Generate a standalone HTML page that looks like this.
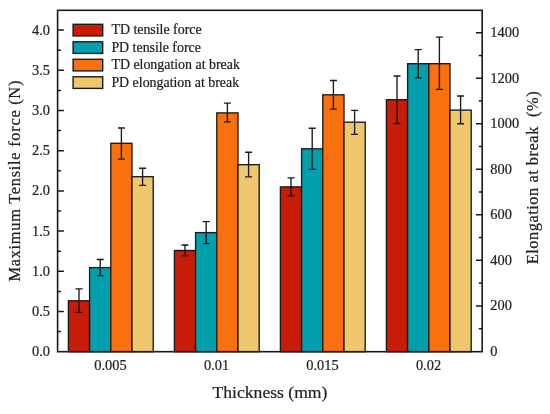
<!DOCTYPE html>
<html lang="en"><head><meta charset="utf-8"><title>Tensile force and elongation chart</title>
<style>html,body{margin:0;padding:0;background:#fff}body{width:550px;height:414px;overflow:hidden}svg{display:block}</style></head>
<body>
<svg width="550" height="414" viewBox="0 0 550 414">
<rect width="550" height="414" fill="#fff"/>
<g stroke="#1a1a1a" stroke-width="1.35">
<rect x="68.40" y="300.80" width="21.2" height="50.90" fill="#C81B08"/>
<rect x="89.60" y="267.60" width="21.2" height="84.10" fill="#02A0AC"/>
<rect x="110.80" y="143.30" width="21.2" height="208.40" fill="#F9700F"/>
<rect x="132.00" y="176.70" width="21.2" height="175.00" fill="#EFC86E"/>
<rect x="174.40" y="250.50" width="21.2" height="101.20" fill="#C81B08"/>
<rect x="195.60" y="232.60" width="21.2" height="119.10" fill="#02A0AC"/>
<rect x="216.80" y="112.90" width="21.2" height="238.80" fill="#F9700F"/>
<rect x="238.00" y="164.70" width="21.2" height="187.00" fill="#EFC86E"/>
<rect x="280.40" y="186.90" width="21.2" height="164.80" fill="#C81B08"/>
<rect x="301.60" y="148.80" width="21.2" height="202.90" fill="#02A0AC"/>
<rect x="322.80" y="94.80" width="21.2" height="256.90" fill="#F9700F"/>
<rect x="344.00" y="122.20" width="21.2" height="229.50" fill="#EFC86E"/>
<rect x="386.40" y="99.70" width="21.2" height="252.00" fill="#C81B08"/>
<rect x="407.60" y="63.70" width="21.2" height="288.00" fill="#02A0AC"/>
<rect x="428.80" y="63.70" width="21.2" height="288.00" fill="#F9700F"/>
<rect x="450.00" y="110.10" width="21.2" height="241.60" fill="#EFC86E"/>
</g>
<g stroke="#1a1a1a" stroke-width="1.35" fill="none">
<path d="M79.00 288.9 V312.29999999999995 M75.50 288.9 H82.50 M75.50 312.29999999999995 H82.50"/>
<path d="M100.20 259.5 V275.59999999999997 M96.70 259.5 H103.70 M96.70 275.59999999999997 H103.70"/>
<path d="M121.40 128.0 V159.1 M117.90 128.0 H124.90 M117.90 159.1 H124.90"/>
<path d="M142.60 168.20000000000002 V185.3 M139.10 168.20000000000002 H146.10 M139.10 185.3 H146.10"/>
<path d="M185.00 245.0 V255.8 M181.50 245.0 H188.50 M181.50 255.8 H188.50"/>
<path d="M206.20 221.6 V243.6 M202.70 221.6 H209.70 M202.70 243.6 H209.70"/>
<path d="M227.40 103.10000000000001 V121.9 M223.90 103.10000000000001 H230.90 M223.90 121.9 H230.90"/>
<path d="M248.60 152.20000000000002 V176.8 M245.10 152.20000000000002 H252.10 M245.10 176.8 H252.10"/>
<path d="M291.00 177.8 V195.9 M287.50 177.8 H294.50 M287.50 195.9 H294.50"/>
<path d="M312.20 128.2 V169.4 M308.70 128.2 H315.70 M308.70 169.4 H315.70"/>
<path d="M333.40 80.5 V109.10000000000001 M329.90 80.5 H336.90 M329.90 109.10000000000001 H336.90"/>
<path d="M354.60 110.4 V134.3 M351.10 110.4 H358.10 M351.10 134.3 H358.10"/>
<path d="M397.00 76.0 V123.5 M393.50 76.0 H400.50 M393.50 123.5 H400.50"/>
<path d="M418.20 49.6 V77.80000000000001 M414.70 49.6 H421.70 M414.70 77.80000000000001 H421.70"/>
<path d="M439.40 37.1 V89.30000000000001 M435.90 37.1 H442.90 M435.90 89.30000000000001 H442.90"/>
<path d="M460.60 96.0 V123.7 M457.10 96.0 H464.10 M457.10 123.7 H464.10"/>
</g>
<rect x="57.6" y="10.3" width="424.59999999999997" height="341.4" fill="none" stroke="#1a1a1a" stroke-width="1.6"/>
<path d="M57.6 331.60 h3.3 M57.6 311.50 h6.3 M57.6 291.40 h3.3 M57.6 271.30 h6.3 M57.6 251.20 h3.3 M57.6 231.10 h6.3 M57.6 211.00 h3.3 M57.6 190.90 h6.3 M57.6 170.80 h3.3 M57.6 150.70 h6.3 M57.6 130.60 h3.3 M57.6 110.50 h6.3 M57.6 90.40 h3.3 M57.6 70.30 h6.3 M57.6 50.20 h3.3 M57.6 30.10 h6.3 M482.2 328.64 h-3.4 M482.2 305.88 h-6.3 M482.2 283.12 h-3.4 M482.2 260.36 h-6.3 M482.2 237.60 h-3.4 M482.2 214.84 h-6.3 M482.2 192.08 h-3.4 M482.2 169.32 h-6.3 M482.2 146.56 h-3.4 M482.2 123.80 h-6.3 M482.2 101.04 h-3.4 M482.2 78.28 h-6.3 M482.2 55.52 h-3.4 M482.2 32.76 h-6.3" stroke="#1a1a1a" stroke-width="1.5" fill="none"/>
<g font-family="'Liberation Serif', 'Times New Roman', serif" font-size="14.4" fill="#222" stroke="#222" stroke-width="0.22">
<text x="50" y="356.10" text-anchor="end">0.0</text>
<text x="50" y="315.90" text-anchor="end">0.5</text>
<text x="50" y="275.70" text-anchor="end">1.0</text>
<text x="50" y="235.50" text-anchor="end">1.5</text>
<text x="50" y="195.30" text-anchor="end">2.0</text>
<text x="50" y="155.10" text-anchor="end">2.5</text>
<text x="50" y="114.90" text-anchor="end">3.0</text>
<text x="50" y="74.70" text-anchor="end">3.5</text>
<text x="50" y="34.50" text-anchor="end">4.0</text>
<text x="490.3" y="355.70">0</text>
<text x="490.3" y="310.18">200</text>
<text x="490.3" y="264.66">400</text>
<text x="490.3" y="219.14">600</text>
<text x="490.3" y="173.62">800</text>
<text x="490.3" y="128.10">1000</text>
<text x="490.3" y="82.58">1200</text>
<text x="490.3" y="37.06">1400</text>
<text x="110.50" y="370.2" text-anchor="middle">0.005</text>
<text x="216.50" y="370.2" text-anchor="middle">0.01</text>
<text x="322.50" y="370.2" text-anchor="middle">0.015</text>
<text x="428.50" y="370.2" text-anchor="middle">0.02</text>
</g>
<g font-family="'Liberation Serif', 'Times New Roman', serif" fill="#222" stroke="#222" stroke-width="0.22">
<text font-size="17.6" x="270" y="398" text-anchor="middle">Thickness (mm)</text>
<text font-size="16.4" transform="translate(20 281.6) rotate(-90)" textLength="201" lengthAdjust="spacing">Maximum Tensile force (N)</text>
<text font-size="16.4" transform="translate(538 264.3) rotate(-90)" textLength="173" lengthAdjust="spacing" xml:space="preserve">Elongation at break  (%)</text>
</g>
<g stroke="#1a1a1a" stroke-width="1.4">
<rect x="73.1" y="24.30" width="29.6" height="11.6" fill="#C81B08"/>
<rect x="73.1" y="41.80" width="29.6" height="11.6" fill="#02A0AC"/>
<rect x="73.1" y="59.30" width="29.6" height="11.6" fill="#F9700F"/>
<rect x="73.1" y="76.80" width="29.6" height="11.6" fill="#EFC86E"/>
</g>
<g font-family="'Liberation Serif', 'Times New Roman', serif" font-size="13.9" fill="#222" stroke="#222" stroke-width="0.22">
<text x="111.4" y="34.20">TD tensile force</text>
<text x="111.4" y="51.70">PD tensile force</text>
<text x="111.4" y="69.20">TD elongation at break</text>
<text x="111.4" y="86.70">PD elongation at break</text>
</g>
</svg>
</body></html>
